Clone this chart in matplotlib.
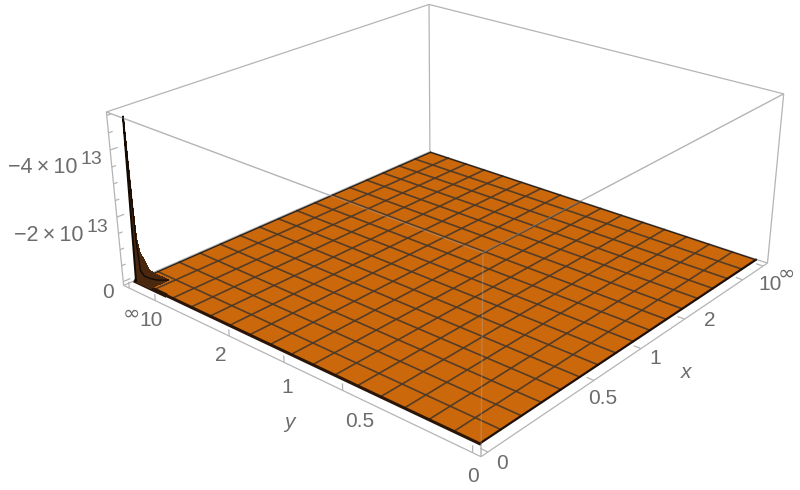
import matplotlib
matplotlib.use("Agg")
import matplotlib.pyplot as plt
import numpy as np

plt.rcParams["font.family"] = ["Liberation Sans", "DejaVu Sans"]

# axis ticks, on the compactified scale t/(1+t)
tick_pos = [0.0, 1 / 3, 1 / 2, 2 / 3, 10 / 11, 1.0]
x_labels = ["0", "0.5", "1", "2", "10", "∞"]
y_labels = ["0", "0.5", "1", "2", "10", "∞"]
z_major = [0.0, -2.0, -4.0]
z_minor = [-0.5, -1.0, -1.5, -2.5, -3.0, -3.5, -4.5, -5.0]

# mesh lines of the surface
mesh_lines = [0.0625, 0.125, 0.1875, 0.25, 0.3125, 0.375, 0.4375, 0.5,
              0.5625, 0.625, 0.6875, 0.75, 0.8125, 0.875, 0.9375]

# spike in the corner x=0, y=1: distance from the corner, height in 1e13
spike_d = [0.0, 0.004, 0.006, 0.0085, 0.014, 0.024, 0.034, 0.05]
spike_z = [
    [0.0, 0.0, 0.0, 0.0, 0.0, 0.0, 0.0, 0.0],
    [0.0, -4.95, -2.47, -1.26, -0.85, -0.55, -0.20, 0.0],
    [0.0, -2.47, -1.25, -0.64, -0.43, -0.27, -0.10, 0.0],
    [0.0, -1.26, -0.64, -0.33, -0.22, -0.14, -0.05, 0.0],
    [0.0, -0.85, -0.43, -0.22, -0.15, -0.09, -0.03, 0.0],
    [0.0, -0.55, -0.27, -0.14, -0.09, -0.06, -0.02, 0.0],
    [0.0, -0.20, -0.10, -0.05, -0.03, -0.02, -0.01, 0.0],
    [0.0, 0.0, 0.0, 0.0, 0.0, 0.0, 0.0, 0.0],
]

GRAY = "#b4b4b4"
TEXT = "#6c6c6c"
ORANGE = "#cb680c"

W = 667.8
cx, cy = 450.4, 190.6
fig = plt.figure(figsize=(8, 4.9), dpi=100)
ax = fig.add_axes([(cx - 0.95 / 1.85 * W) / 800, (490 - cy - 0.95 / 1.85 * W) / 490,
                   W / 800, W / 490], projection="3d", computed_zorder=False)
ax.set_box_aspect((1, 1, 0.4))
ax.view_init(elev=23.85, azim=-139.36, roll=0)
ax.set_proj_type("persp", focal_length=0.4137)
ax.set_xlim(-0.02, 1.02)
ax.set_ylim(-0.02, 1.02)
zb, zt = 0.12, -5.1
ax.set_zlim(zb, zt)
ax.set_axis_off()

x0, x1, y0, y1 = -0.02, 1.02, -0.02, 1.02


def box_line(a, b, z=2, lw=0.9, color=GRAY, alpha=1.0):
    ax.plot([a[0], b[0]], [a[1], b[1]], [a[2], b[2]], color=color, lw=lw,
            alpha=alpha, zorder=z, clip_on=False, solid_capstyle="butt")


# box edges behind the surface
for a, b in [((x0, y0, zb), (x1, y0, zb)), ((x0, y0, zb), (x0, y1, zb)),
             ((x1, y1, zb), (x1, y0, zb)), ((x1, y1, zb), (x0, y1, zb)),
             ((x1, y1, zb), (x1, y1, zt)), ((x1, y0, zb), (x1, y0, zt)),
             ((x0, y1, zb), (x0, y1, zt)),
             ((x1, y1, zt), (x1, y0, zt)), ((x1, y1, zt), (x0, y1, zt)),
             ((x0, y0, zt), (x1, y0, zt)), ((x0, y0, zt), (x0, y1, zt)),
             ((x0, y0, zb), (x0, y0, zt))]:
    box_line(a, b, z=1)

# flat part of the surface
gx, gy = np.meshgrid([0.0, 1.0], [0.0, 1.0])
ax.plot_surface(gx, gy, np.zeros_like(gx), color=ORANGE, shade=False, zorder=2,
                linewidth=0, antialiased=True)

# mesh
for m in mesh_lines:
    ax.plot([m, m], [0, 1], [0, 0], color="#4a3828", lw=1.2, alpha=0.9, zorder=3)
    ax.plot([0, 1], [m, m], [0, 0], color="#4a3828", lw=1.2, alpha=0.9, zorder=3)

# boundary of the surface
ax.plot([0, 1], [0, 0], [0, 0], color="#1e1008", lw=1.6, zorder=4)
ax.plot([0, 0], [0, 1], [0, 0], color="#2a1608", lw=2.2, zorder=4)
ax.plot([0, 0], [0.9, 1], [0, 0], color="#2a1608", lw=3.2, zorder=4)
ax.plot([1, 1], [0, 1], [0, 0], color="#2a2018", lw=1.0, zorder=4)
ax.plot([0, 1], [1, 1], [0, 0], color="#2a2018", lw=1.0, zorder=4)

# spike
d = np.array(spike_d)
sx, sy = np.meshgrid(d, 1 - d)
sz = np.array(spike_z)
ax.plot_surface(sx, sy, sz, color="#4a2810", shade=False, zorder=5, rstride=1, cstride=1,
                linewidth=0.6, edgecolor="#4a2810", antialiased=False)
ax.plot(d[1:], 1 - d[1:], np.diag(sz)[1:], color="#120a04", lw=1.0, zorder=6)
ax.plot(d[:2], 1 - d[:2], [0, sz[1, 1]], color="#120a04", lw=1.4, zorder=6)

# box edges showing faintly through the surface
for a, b in [((x0, y0, zb), (x0, y0, zt)), ((x0, y0, zt), (x1, y0, zt)),
             ((x0, y0, zt), (x0, y1, zt))]:
    box_line(a, b, z=7, alpha=0.35)

# tick marks
for t in tick_pos:
    box_line((t, y0, zb), (t, y0 + 0.018, zb), z=7)
    box_line((x0, t, zb), (x0, t, zb - 0.2), z=7)
for v in z_major:
    box_line((x0, y1, v), (x0 + 0.02, y1, v), z=7)
for v in z_minor:
    box_line((x0, y1, v), (x0 + 0.011, y1, v), z=7)


def label(px, py, s, size=15, **kw):
    fig.text(px / 800, 1 - py / 490, s, color=TEXT, fontsize=size, **kw)


x_label_px = [(502, 463), (603, 398), (655, 358), (710, 321), (770, 285), (786, 274)]
y_label_px = [(473, 476), (360, 421), (287, 387), (221, 355), (151, 320), (131, 314)]
for (px, py), s in zip(x_label_px, x_labels):
    label(px, py, s, ha="center", va="center",
          family="DejaVu Sans" if s == "∞" else "Liberation Sans")
for (px, py), s in zip(y_label_px, y_labels):
    label(px, py, s, ha="center", va="center",
          family="DejaVu Sans" if s == "∞" else "Liberation Sans")
label(108, 292, "0", ha="center", va="center")

label(78, 173, "−4\u2009×\u200910", size=15.5, ha="right", va="baseline")
label(81, 164, "13", size=14, ha="left", va="baseline")
label(84, 241, "−2\u2009×\u200910", size=15.5, ha="right", va="baseline")
label(87, 232, "13", size=14, ha="left", va="baseline")

label(686, 372, "x", style="italic", ha="center", va="center")
label(289, 422, "y", style="italic", ha="center", va="center")

fig.savefig("out.png", dpi=100)
